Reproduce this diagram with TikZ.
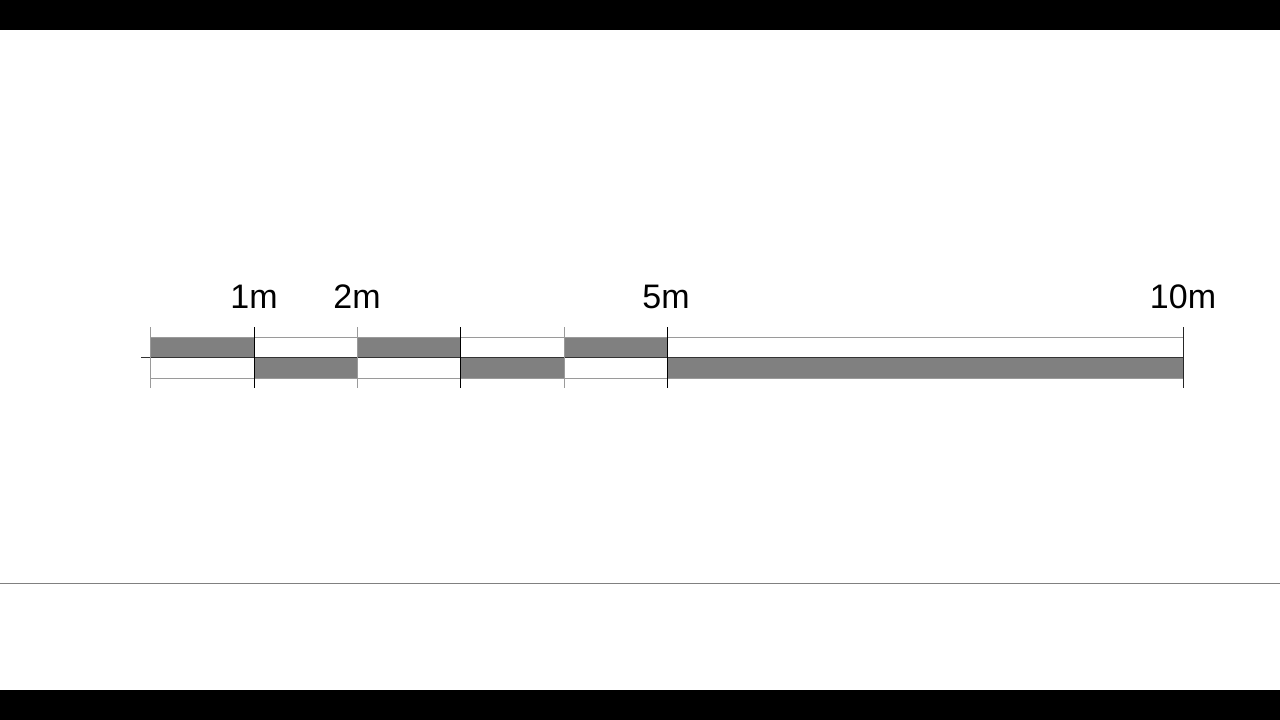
\documentclass[tikz,border=0pt]{standalone}
\usepackage{fontspec}
\setmainfont{Liberation Sans}
\definecolor{barfill}{HTML}{808080}
\definecolor{rulegray}{HTML}{9A9A9A}
\definecolor{floorgray}{HTML}{808080}
\begin{document}
\begin{tikzpicture}[x=1pt,y=-1pt,
      seg/.style={fill=barfill,draw=none},
      rule/.style={draw=rulegray,line width=1pt},
      tick/.style={line width=1pt},
      lab/.style={anchor=base,inner sep=0pt,font=\fontsize{34}{40}\selectfont}]
    \useasboundingbox (0,0) rectangle (1280,720);
    \fill[black] (0,0) rectangle (1280,30);
    \fill[black] (0,690) rectangle (1280,720);
    % filled segments
    \foreach \a/\b in {150/254,357/460,564/667}
      \fill[seg] (\a,337) rectangle (\b,357);
    \foreach \a/\b in {254/357,460/564,667/1183}
      \fill[seg] (\a,357) rectangle (\b,378);
    % rows
    \draw[rule] (150,337) -- (1183,337);
    \draw[rule] (150,378) -- (1183,378);
    \draw[tick,black!80] (141,357) -- (1183,357);
    % ticks
    \foreach \x/\c in {150/rulegray,254/black,357/rulegray,460/black,564/rulegray,667/black,1183/black!85}
      \draw[tick,draw=\c] (\x,327) -- (\x,388);
    \node[lab] (one) at (254,308) {1m};
    \node[lab] (two) at (357,308) {2m};
    \node[lab] (five) at (666,308) {5m};
    \node[lab] (ten) at (1183,308) {10m};
    \draw[draw=floorgray,line width=1.5pt] (0,583.5) -- (1280,583.5);
  \end{tikzpicture}
\end{document}
